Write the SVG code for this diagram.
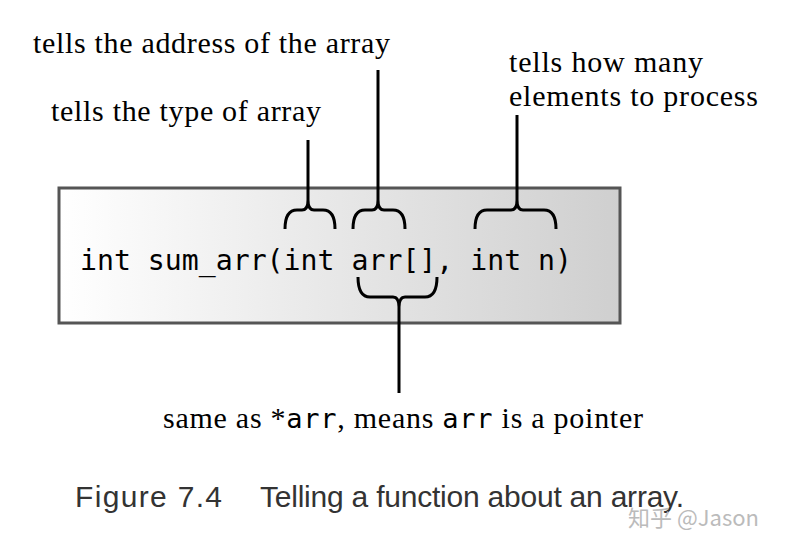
<svg xmlns="http://www.w3.org/2000/svg" width="792" height="550" viewBox="0 0 792 550">
<defs>
<linearGradient id="g" x1="0" x2="1" y1="0" y2="0"><stop offset="0" stop-color="#ffffff"/><stop offset="1" stop-color="#cfcfcf"/></linearGradient>
<style>
.lbl{font-family:"Liberation Serif",serif;font-size:30px;fill:#000}
.code{font-family:"DejaVu Sans Mono",monospace;font-size:29px;fill:#000}
.br{fill:none;stroke:#000;stroke-width:3}
.cap{font-family:"Liberation Sans",sans-serif;font-size:30px;fill:#333}
</style>
</defs>
<rect width="792" height="550" fill="#fff"/>
<g id="box">
<rect x="59" y="188" width="561" height="135" fill="url(#g)" stroke="#555" stroke-width="3"/>
<text class="code" x="80" y="270" textLength="492" lengthAdjust="spacingAndGlyphs">int sum_arr(int arr[], int n)</text>
</g>
<g id="connectors">
<path class="br" d="M285,229 Q285,210 297,210 L302,210 Q308,210 308,200 Q308,210 314,210 L323,210 Q335,210 335,229"/>
<path class="br" d="M353,229 Q353,210 365,210 L372,210 Q378,210 378,200 Q378,210 384,210 L393,210 Q405,210 405,229"/>
<path class="br" d="M475,229 Q475,210 487,210 L511,210 Q517,210 517,200 Q517,210 523,210 L544,210 Q556,210 556,229"/>
<path class="br" d="M358,277 Q358,297 370,297 L393,297 Q399,297 399,307 Q399,297 405,297 L425,297 Q437,297 437,277"/>
<line class="br" x1="308" y1="140" x2="308" y2="200"/>
<line class="br" x1="378" y1="70" x2="378" y2="200"/>
<line class="br" x1="517" y1="115" x2="517" y2="200"/>
<line class="br" x1="399" y1="307" x2="399" y2="393"/>
</g>
<g id="labels">
<text class="lbl" x="33" y="53" textLength="357">tells the address of the array</text>
<text class="lbl" x="51" y="121" textLength="270">tells the type of array</text>
<text class="lbl" x="509" y="72" textLength="194">tells how many</text>
<text class="lbl" x="509" y="106" textLength="249">elements to process</text>
<text class="lbl" x="163" y="428" textLength="480">same as *<tspan font-family="DejaVu Sans Mono,monospace" font-size="27">arr</tspan>, means <tspan font-family="DejaVu Sans Mono,monospace" font-size="27">arr</tspan> is a pointer</text>
</g>
<g id="caption">
<text class="cap" x="75" y="507" textLength="147">Figure 7.4</text>
<text class="cap" x="260" y="507" font-size="27" fill="#111" textLength="424">Telling a function about an array.</text>
<text x="628" y="526" font-family="Noto Sans CJK SC,sans-serif" font-size="22" fill="#bbb">知乎 @Jason</text>
</g>
</svg>
